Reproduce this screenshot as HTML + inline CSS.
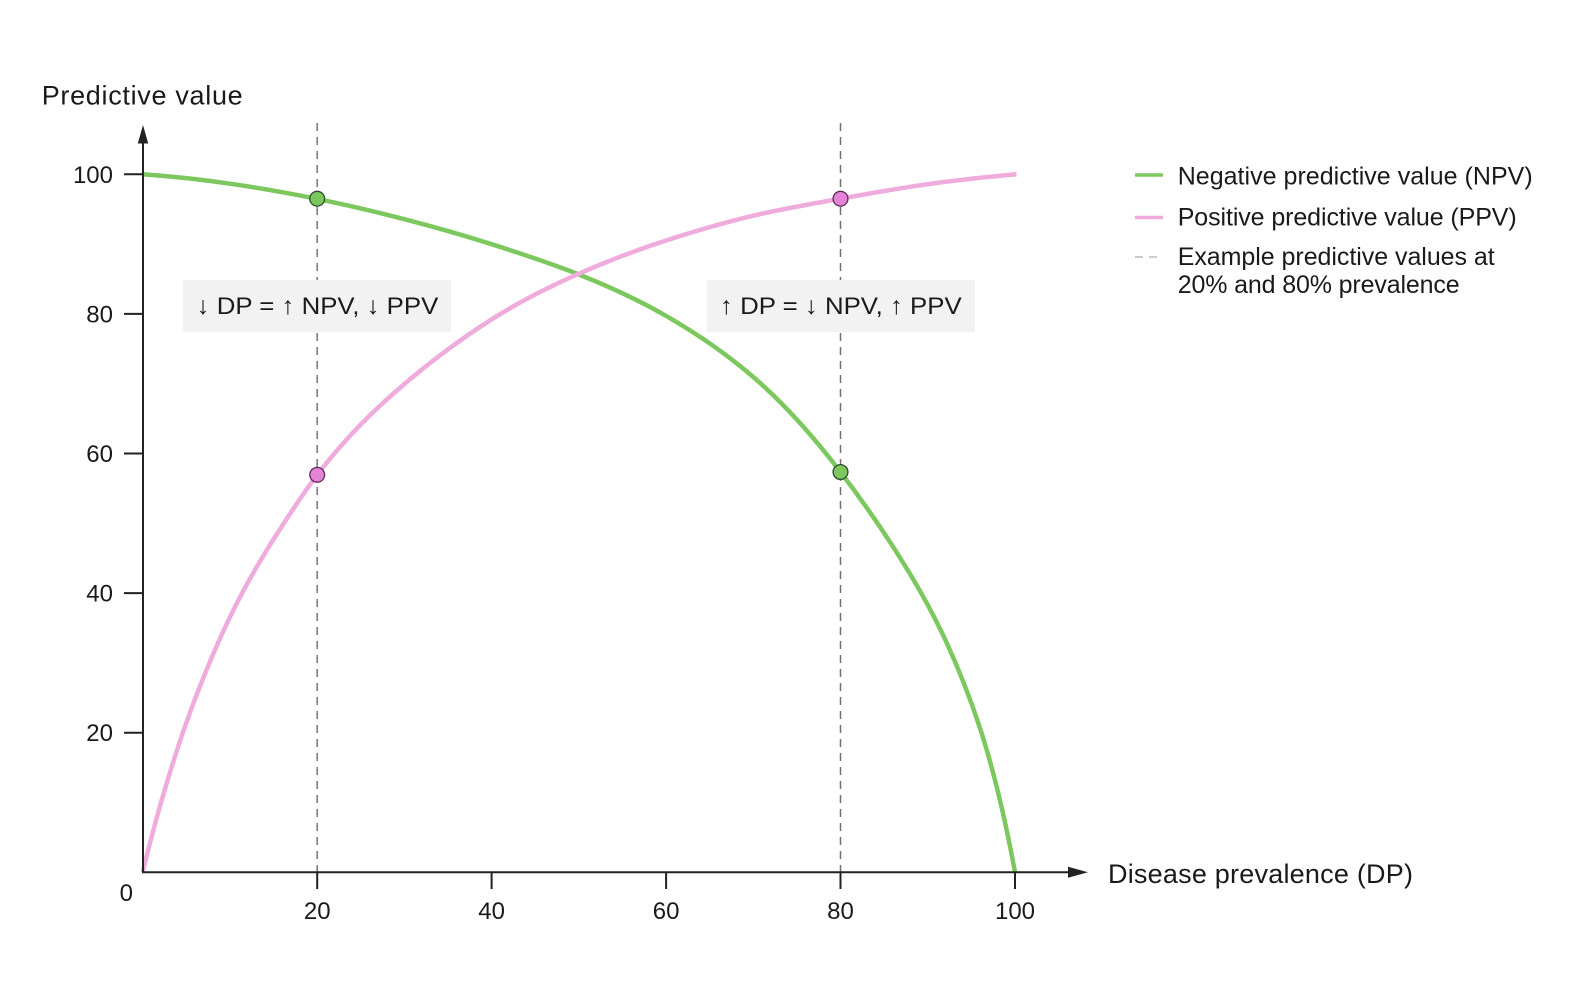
<!DOCTYPE html>
<html>
<head>
<meta charset="utf-8">
<style>
  html, body { margin: 0; padding: 0; background: #ffffff; }
  svg { display: block; }
  text { font-family: "Liberation Sans", "DejaVu Sans", sans-serif; fill: #1a1a1a; }
</style>
</head>
<body>
<svg width="1579" height="999" viewBox="0 0 1579 999" xmlns="http://www.w3.org/2000/svg">
  <rect x="0" y="0" width="1579" height="999" fill="#ffffff"/>

  <!-- Title -->
  <text x="41.7" y="104.3" font-size="27" textLength="201" lengthAdjust="spacing">Predictive value</text>

  <!-- Dashed reference lines -->
  <line x1="317.2" y1="123" x2="317.2" y2="872" stroke="#808080" stroke-width="1.6" stroke-dasharray="8 6"/>
  <line x1="840.5" y1="123" x2="840.5" y2="872" stroke="#707070" stroke-width="1.5" stroke-dasharray="8 6"/>

  <!-- Annotation boxes -->
  <rect x="183" y="280" width="268" height="52" fill="#f2f2f2"/>
  <text x="196.7" y="314" font-size="24.5" textLength="241.6" lengthAdjust="spacingAndGlyphs">↓ DP = ↑ NPV, ↓ PPV</text>
  <rect x="706.7" y="280" width="268.3" height="52" fill="#f2f2f2"/>
  <text x="720" y="314" font-size="24.5" textLength="241.7" lengthAdjust="spacingAndGlyphs">↑ DP = ↓ NPV, ↑ PPV</text>

  <!-- NPV curve (green) -->
  <path fill="none" stroke="#7cc85f" stroke-width="4.5" stroke-linejoin="round" stroke-linecap="butt"
    d="M142.7,174.3
       C171.77,176.33 200.83,179.51 229.9,183.7
       C259.0,187.89 288.1,192.99 317.2,198.9
       C346.27,204.80 375.33,211.64 404.4,219.2
       C433.47,226.76 462.53,234.96 491.6,244.2
       C520.7,253.45 549.8,262.95 578.9,274.5
       C607.97,286.04 637.03,299.18 666.1,315.9
       C695.17,332.62 724.23,351.86 753.3,377.0
       C782.37,402.14 811.43,433.92 840.5,472.0
       C863.77,502.48 887.03,535.68 910.3,574.4
       C921.93,593.76 933.57,614.61 945.2,639.6
       C956.83,664.59 968.47,693.04 980.1,728.4
       C985.93,746.13 991.77,766.9 997.6,790.5
       C1003.4,813.97 1009.2,840.4 1015.0,872.3"/>

  <!-- PPV curve (pink) -->
  <path fill="none" stroke="#f0abdd" stroke-width="4.5" stroke-linejoin="round" stroke-linecap="butt"
    d="M142.7,872.3
       C145.6,860.41 148.5,848.65 151.4,837.6
       C157.23,815.39 163.07,794.96 168.9,775.9
       C174.7,756.93 180.5,738.88 186.3,722.7
       C200.83,682.16 215.37,647.42 229.9,617.2
       C247.37,580.86 264.83,552.33 282.3,525.6
       C293.93,507.81 305.57,490.04 317.2,474.8
       C346.27,436.72 375.33,408.8 404.4,384.0
       C433.47,359.2 462.53,337.89 491.6,319.4
       C520.7,300.89 549.8,286.53 578.9,273.7
       C607.97,260.88 637.03,249.95 666.1,240.5
       C695.17,231.05 724.23,222.62 753.3,215.7
       C782.37,208.78 811.43,203.93 840.5,198.7
       C869.6,193.46 898.7,188.24 927.8,184.2
       C957.37,180.09 986.93,176.96 1016.5,174.3"/>

  <!-- Points -->
  <circle cx="317.2" cy="198.7" r="7.4" fill="#7cc85f" stroke="#2e4d2a" stroke-width="1.3"/>
  <circle cx="840.5" cy="472.0" r="7.4" fill="#7cc85f" stroke="#2e4d2a" stroke-width="1.3"/>
  <circle cx="317.2" cy="474.8" r="7.4" fill="#e783d6" stroke="#5b2a57" stroke-width="1.3"/>
  <circle cx="840.5" cy="198.7" r="7.4" fill="#e783d6" stroke="#5b2a57" stroke-width="1.3"/>

  <!-- Axes -->
  <line x1="143" y1="872.3" x2="143" y2="140" stroke="#222" stroke-width="2"/>
  <polygon points="143,125 137.8,143.5 148.2,143.5" fill="#222"/>
  <line x1="142" y1="872.3" x2="1072" y2="872.3" stroke="#222" stroke-width="2"/>
  <polygon points="1088,872.3 1068,866.8 1068,877.8" fill="#222"/>

  <!-- Y ticks -->
  <g stroke="#222" stroke-width="2">
    <line x1="124" y1="174.3" x2="143" y2="174.3"/>
    <line x1="124" y1="313.9" x2="143" y2="313.9"/>
    <line x1="124" y1="453.5" x2="143" y2="453.5"/>
    <line x1="124" y1="593.1" x2="143" y2="593.1"/>
    <line x1="124" y1="732.7" x2="143" y2="732.7"/>
  </g>
  <g font-size="24" text-anchor="end">
    <text x="113" y="182.8">100</text>
    <text x="113" y="322.4">80</text>
    <text x="113" y="462.0">60</text>
    <text x="113" y="601.6">40</text>
    <text x="113" y="741.2">20</text>
  </g>

  <!-- X ticks -->
  <g stroke="#222" stroke-width="2">
    <line x1="317.2" y1="872.3" x2="317.2" y2="889"/>
    <line x1="491.6" y1="872.3" x2="491.6" y2="889"/>
    <line x1="666.1" y1="872.3" x2="666.1" y2="889"/>
    <line x1="840.5" y1="872.3" x2="840.5" y2="889"/>
    <line x1="1015" y1="872.3" x2="1015" y2="889"/>
  </g>
  <g font-size="24" text-anchor="middle">
    <text x="126.3" y="901">0</text>
    <text x="317.2" y="919">20</text>
    <text x="491.6" y="919">40</text>
    <text x="666.1" y="919">60</text>
    <text x="840.5" y="919">80</text>
    <text x="1015" y="919">100</text>
  </g>

  <!-- X axis title -->
  <text x="1108" y="883" font-size="27" textLength="305" lengthAdjust="spacing">Disease prevalence (DP)</text>

  <!-- Legend -->
  <line x1="1135" y1="175" x2="1163" y2="175" stroke="#7cc85f" stroke-width="3.5"/>
  <text x="1177.7" y="184.5" font-size="25" textLength="355" lengthAdjust="spacing">Negative predictive value (NPV)</text>
  <line x1="1135" y1="217.5" x2="1163" y2="217.5" stroke="#f0abdd" stroke-width="3.5"/>
  <text x="1177.7" y="225.5" font-size="25" textLength="339" lengthAdjust="spacing">Positive predictive value (PPV)</text>
  <line x1="1135" y1="257" x2="1163" y2="257" stroke="#bdbdbd" stroke-width="1.6" stroke-dasharray="8 6"/>
  <text x="1177.7" y="265" font-size="25" textLength="317" lengthAdjust="spacing">Example predictive values at</text>
  <text x="1177.7" y="293" font-size="25" textLength="282" lengthAdjust="spacing">20% and 80% prevalence</text>
</svg>
</body>
</html>
